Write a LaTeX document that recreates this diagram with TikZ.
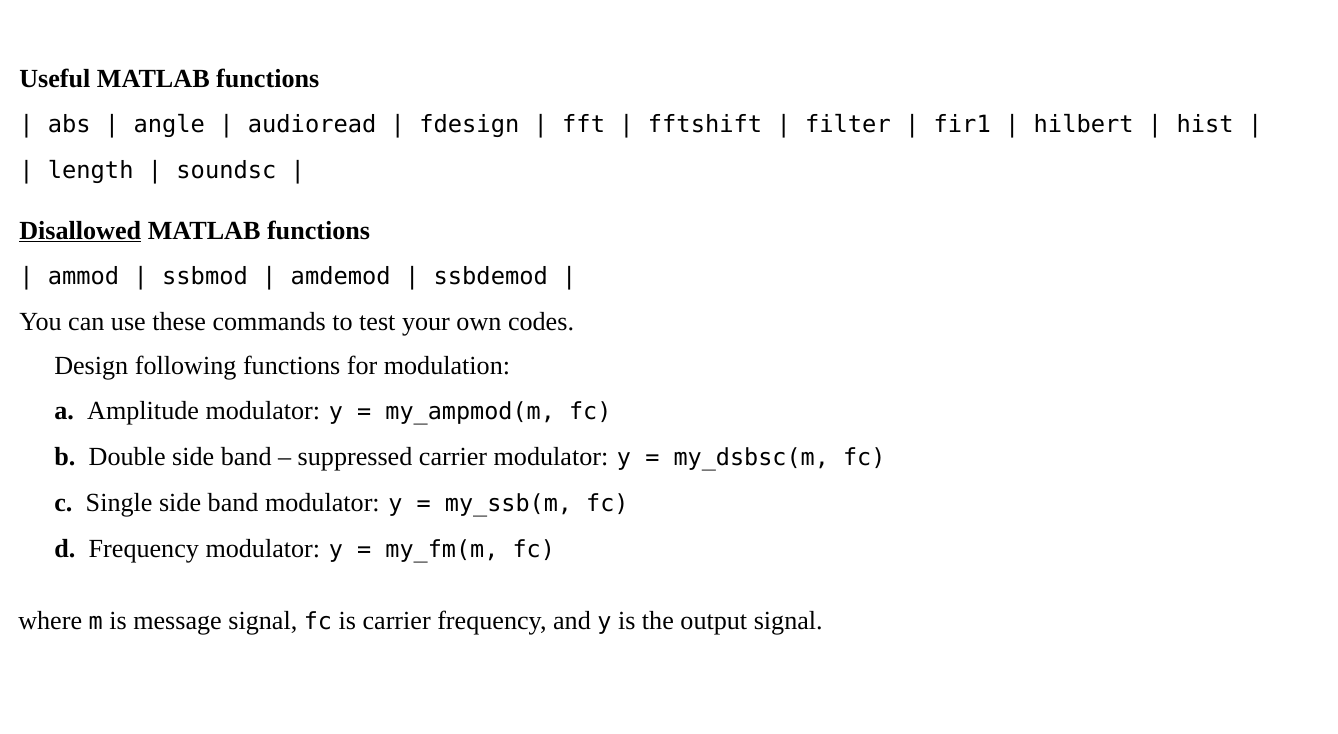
\documentclass[tikz,border=0pt]{standalone}
\usepackage{fontspec}
\setmainfont{Liberation Serif}
\setmonofont{DejaVu Sans Mono}
\newcommand{\mc}[1]{{\ttfamily\fontsize{17.6}{22}\selectfont #1}}
\begin{document}
\begin{tikzpicture}[x=0.75pt,y=-0.75pt,
  t/.style={anchor=base west,inner sep=0pt,font=\fontsize{19.6}{24}\selectfont},
  m/.style={anchor=base west,inner sep=0pt,font=\ttfamily\fontsize{17.8}{22}\selectfont}]
\useasboundingbox (0,0) rectangle (1338,733);
\node[t] (h1) at (19,87) {\textbf{Useful MATLAB functions}};
\node[m] (l1) at (19,132) {| abs | angle | audioread | fdesign | fft | fftshift | filter | fir1 | hilbert | hist |};
\node[m] (l2) at (19,178) {| length | soundsc |};
\node[t] (h2) at (19,239) {\textbf{\underline{Disallowed} MATLAB functions}};
\node[m] (l3) at (19,284) {| ammod | ssbmod | amdemod | ssbdemod |};
\node[t] (p1) at (19,330) {You can use these commands to test your own codes.};
\node[t] (p2) at (54,374) {Design following functions for modulation:};
\node[t] (a) at (54,419) {\textbf{a.}\hspace{10pt}Amplitude modulator: \mc{y = my\_ampmod(m, fc)}};
\node[t] (b) at (54,465) {\textbf{b.}\hspace{10pt}Double side band -- suppressed carrier modulator: \mc{y = my\_dsbsc(m, fc)}};
\node[t] (c) at (54,511) {\textbf{c.}\hspace{10pt}Single side band modulator: \mc{y = my\_ssb(m, fc)}};
\node[t] (d) at (54,557) {\textbf{d.}\hspace{10pt}Frequency modulator: \mc{y = my\_fm(m, fc)}};
\node[t] (w) at (18,629) {where \mc{m} is message signal, \mc{fc} is carrier frequency, and \mc{y} is the output signal.};
\end{tikzpicture}
\end{document}
